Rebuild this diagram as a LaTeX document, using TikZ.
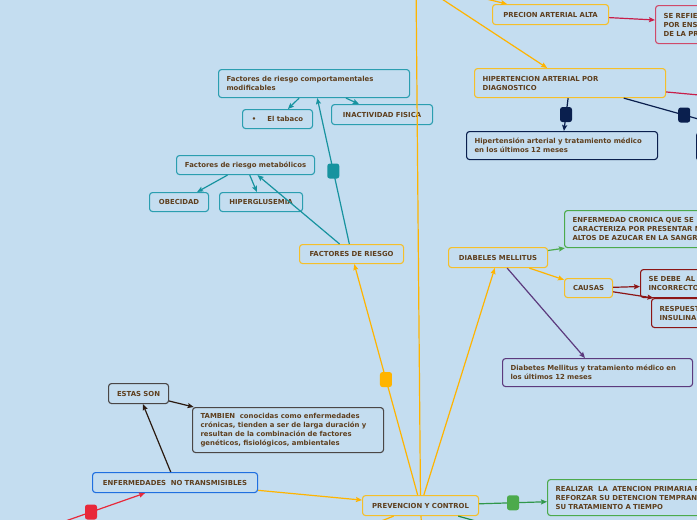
\documentclass[tikz,border=0pt]{standalone}
\usepackage{fontspec}
\setmainfont{DejaVu Sans}
\usetikzlibrary{arrows.meta}
\definecolor{bg}{HTML}{C4DDF0}
\definecolor{yel}{HTML}{FFB400}
\definecolor{yelb}{HTML}{F5BF2A}
\definecolor{tl}{HTML}{17939F}
\definecolor{tlb}{HTML}{2B9EB0}
\definecolor{nv}{HTML}{0A1F4E}
\definecolor{crim}{HTML}{C81E4A}
\definecolor{crimb}{HTML}{CF4A6A}
\definecolor{dred}{HTML}{8C1515}
\definecolor{grn}{HTML}{4CAA4C}
\definecolor{dgrn}{HTML}{1E8A4A}
\definecolor{pur}{HTML}{5C3A7E}
\definecolor{dk}{HTML}{2B1A10}
\definecolor{gry}{HTML}{4A4646}
\definecolor{blu}{HTML}{1F6FE0}
\definecolor{rd}{HTML}{E8283A}
\definecolor{txt}{HTML}{5E3F1E}
\newcommand{\txtfont}{\bfseries\fontsize{6.9}{9}\selectfont}
\tikzset{
  bx/.style={draw=#1, fill=bg, rounded corners=3pt, line width=1.1pt,
    anchor=north west, inner xsep=8pt, inner ysep=0pt, font=\txtfont,
    text=txt, align=left},
  bxc/.style={bx=#1, align=center},
  con/.style={draw=#1, line width=1.2pt, -{Stealth[length=6pt,width=5pt,inset=1pt]}},
  ln/.style={draw=#1, line width=1.2pt},
  mk/.style={fill=#1, draw=none, rounded corners=2.5pt, minimum width=12pt,
    minimum height=15pt, inner sep=0pt},
}
\begin{document}
\begin{tikzpicture}[x=1pt,y=-1pt]
\useasboundingbox (0,0) rectangle (697,520);
\fill[bg] (0,0) rectangle (697,520);
\clip (0,0) rectangle (697,520);

% nodes
\node[bxc=yelb, minimum width=116pt, minimum height=20pt, text width=100pt] (prec) at (492,4) {PRECION ARTERIAL ALTA};
\node[bx=crimb, minimum width=174pt, minimum height=38pt, text width=158pt] (serefie) at (655,5) {SE REFIERE A LA ELEVACION\\POR ENSIMA DE LOS VALORES\\DE LA PRESION NORMAL};
\node[bx=yelb, minimum width=191pt, minimum height=29pt, text width=175pt] (hipert) at (474,68) {HIPERTENCION ARTERIAL POR\\DIAGNOSTICO};
\node[bx=nv, minimum width=191pt, minimum height=28pt, text width=175pt] (hipt) at (466,131) {Hipertensión arterial y tratamiento médico\\en los últimos 12 meses};
\node[bx=nv, minimum width=200pt, minimum height=28pt, text width=184pt] (navyr) at (696,132) {};

\node[bx=tlb, minimum width=191pt, minimum height=28pt, text width=175pt] (comp) at (218,69) {Factores de riesgo comportamentales\\modificables};
\node[bxc=tlb, minimum width=70pt, minimum height=19pt, text width=54pt] (tabaco) at (242,109) {•\hspace{11pt}El tabaco};
\node[bxc=tlb, minimum width=101pt, minimum height=20pt, text width=85pt] (inact) at (331,104) {INACTIVIDAD FISICA};
\node[bxc=tlb, minimum width=138pt, minimum height=19pt, text width=122pt] (metab) at (176,155) {Factores de riesgo metabólicos};
\node[bxc=tlb, minimum width=59pt, minimum height=19pt, text width=43pt] (obec) at (149,192) {OBECIDAD};
\node[bxc=tlb, minimum width=83pt, minimum height=19pt, text width=67pt] (hiperg) at (219,192) {HIPERGLUSEMIA};
\node[bxc=yelb, minimum width=104pt, minimum height=19pt, text width=88pt] (factores) at (299,244) {FACTORES DE RIESGO};

\node[bxc=yelb, minimum width=99pt, minimum height=20pt, text width=83pt] (diab) at (448,247) {DIABELES MELLITUS};
\node[bx=grn, minimum width=270pt, minimum height=37pt, text width=254pt] (enfcr) at (564,210) {ENFERMEDAD CRONICA QUE SE\\CARACTERIZA POR PRESENTAR NIVELES\\ALTOS DE AZUCAR EN LA SANGRE};
\node[bxc=yelb, minimum width=48pt, minimum height=19pt, text width=32pt] (causas) at (564,278) {CAUSAS};
\node[bx=dred, minimum width=200pt, minimum height=28pt, text width=184pt] (sedebe) at (640,269) {SE DEBE\ \ AL\ \ \ USO\\INCORRECTO DE LA INSULINA};
\node[bx=dred, minimum width=200pt, minimum height=29pt, text width=184pt] (resp) at (651,298) {RESPUESTA INADECUADA A LA\\INSULINA};
\node[bx=pur, minimum width=190pt, minimum height=28pt, text width=174pt] (dmbox) at (502,358) {Diabetes Mellitus y tratamiento médico en\\los últimos 12 meses};

\node[bxc=gry, minimum width=60pt, minimum height=20pt, text width=44pt] (estas) at (108,383) {ESTAS SON};
\node[bx=gry, minimum width=191pt, minimum height=45pt, text width=175pt] (tambien) at (192,407) {TAMBIEN\ \ conocidas como enfermedades\\crónicas, tienden a ser de larga duración y\\resultan de la combinación de factores\\genéticos, fisiológicos, ambientales};
\node[bxc=blu, minimum width=165pt, minimum height=20pt, text width=149pt] (enf) at (92,472) {ENFERMEDADES\ \ NO TRANSMISIBLES};
\node[bxc=yelb, minimum width=116pt, minimum height=20pt, text width=100pt] (prev) at (362,495) {PREVENCION Y CONTROL};
\node[bx=grn, minimum width=280pt, minimum height=36pt, text width=264pt] (realizar) at (547,479) {REALIZAR\ \ LA\ \ ATENCION PRIMARIA PARA\\REFORZAR SU DETENCION TEMPRANA Y\\SU TRATAMIENTO A TIEMPO};

% off-picture ends
\coordinate (topn) at (416,-18);
\coordinate (redr) at (850,109);
\coordinate (redsrc) at (37,531);
\coordinate (downa) at (320,545);
\coordinate (downb) at (423,560);
\coordinate (downc) at (490,525);

% connectors
\draw[ln=yel] (prev) -- (topn);
\draw[con=yel] (topn) -- (prec);
\draw[con=yel] (topn) -- (hipert);
\draw[con=crim] (prec) -- (serefie);
\draw[ln=crim] (hipert) -- (redr);
\draw[con=nv] (hipert) -- node[mk=nv] (m1) {} (hipt);
\draw[con=nv] (hipert) -- node[mk=nv] (m2) {} (navyr);

\draw[con=tl] (factores) -- node[mk=tl] (m3) {} (comp);
\draw[con=tl] (comp) -- (tabaco);
\draw[con=tl] (comp) -- (inact);
\draw[con=tl] (factores) -- (metab);
\draw[con=tl] (metab) -- (obec);
\draw[con=tl] (metab) -- (hiperg);

\draw[con=yel] (prev) -- node[mk=yel] (m4) {} (factores);
\draw[con=yel] (prev) -- (diab);
\draw[con=grn] (diab) -- (enfcr);
\draw[con=yel] (diab) -- (causas);
\draw[con=pur] (diab) -- (dmbox);
\draw[con=dred] (causas) -- (sedebe);
\draw[con=dred] (causas) -- (resp);

\draw[con=dk] (enf) -- (estas);
\draw[con=dk] (estas) -- (tambien);
\draw[con=yel] (enf) -- (prev);
\draw[con=rd] (redsrc) -- node[mk=rd] (m5) {} (enf);
\draw[con=dgrn!60!grn] (prev) -- node[mk=grn] (m6) {} (realizar);

\draw[ln=yel] (prev) -- (downa);
\draw[ln=yel] (prev) -- (downb);
\draw[ln=dgrn] (prev) -- (downc);
\end{tikzpicture}
\end{document}
